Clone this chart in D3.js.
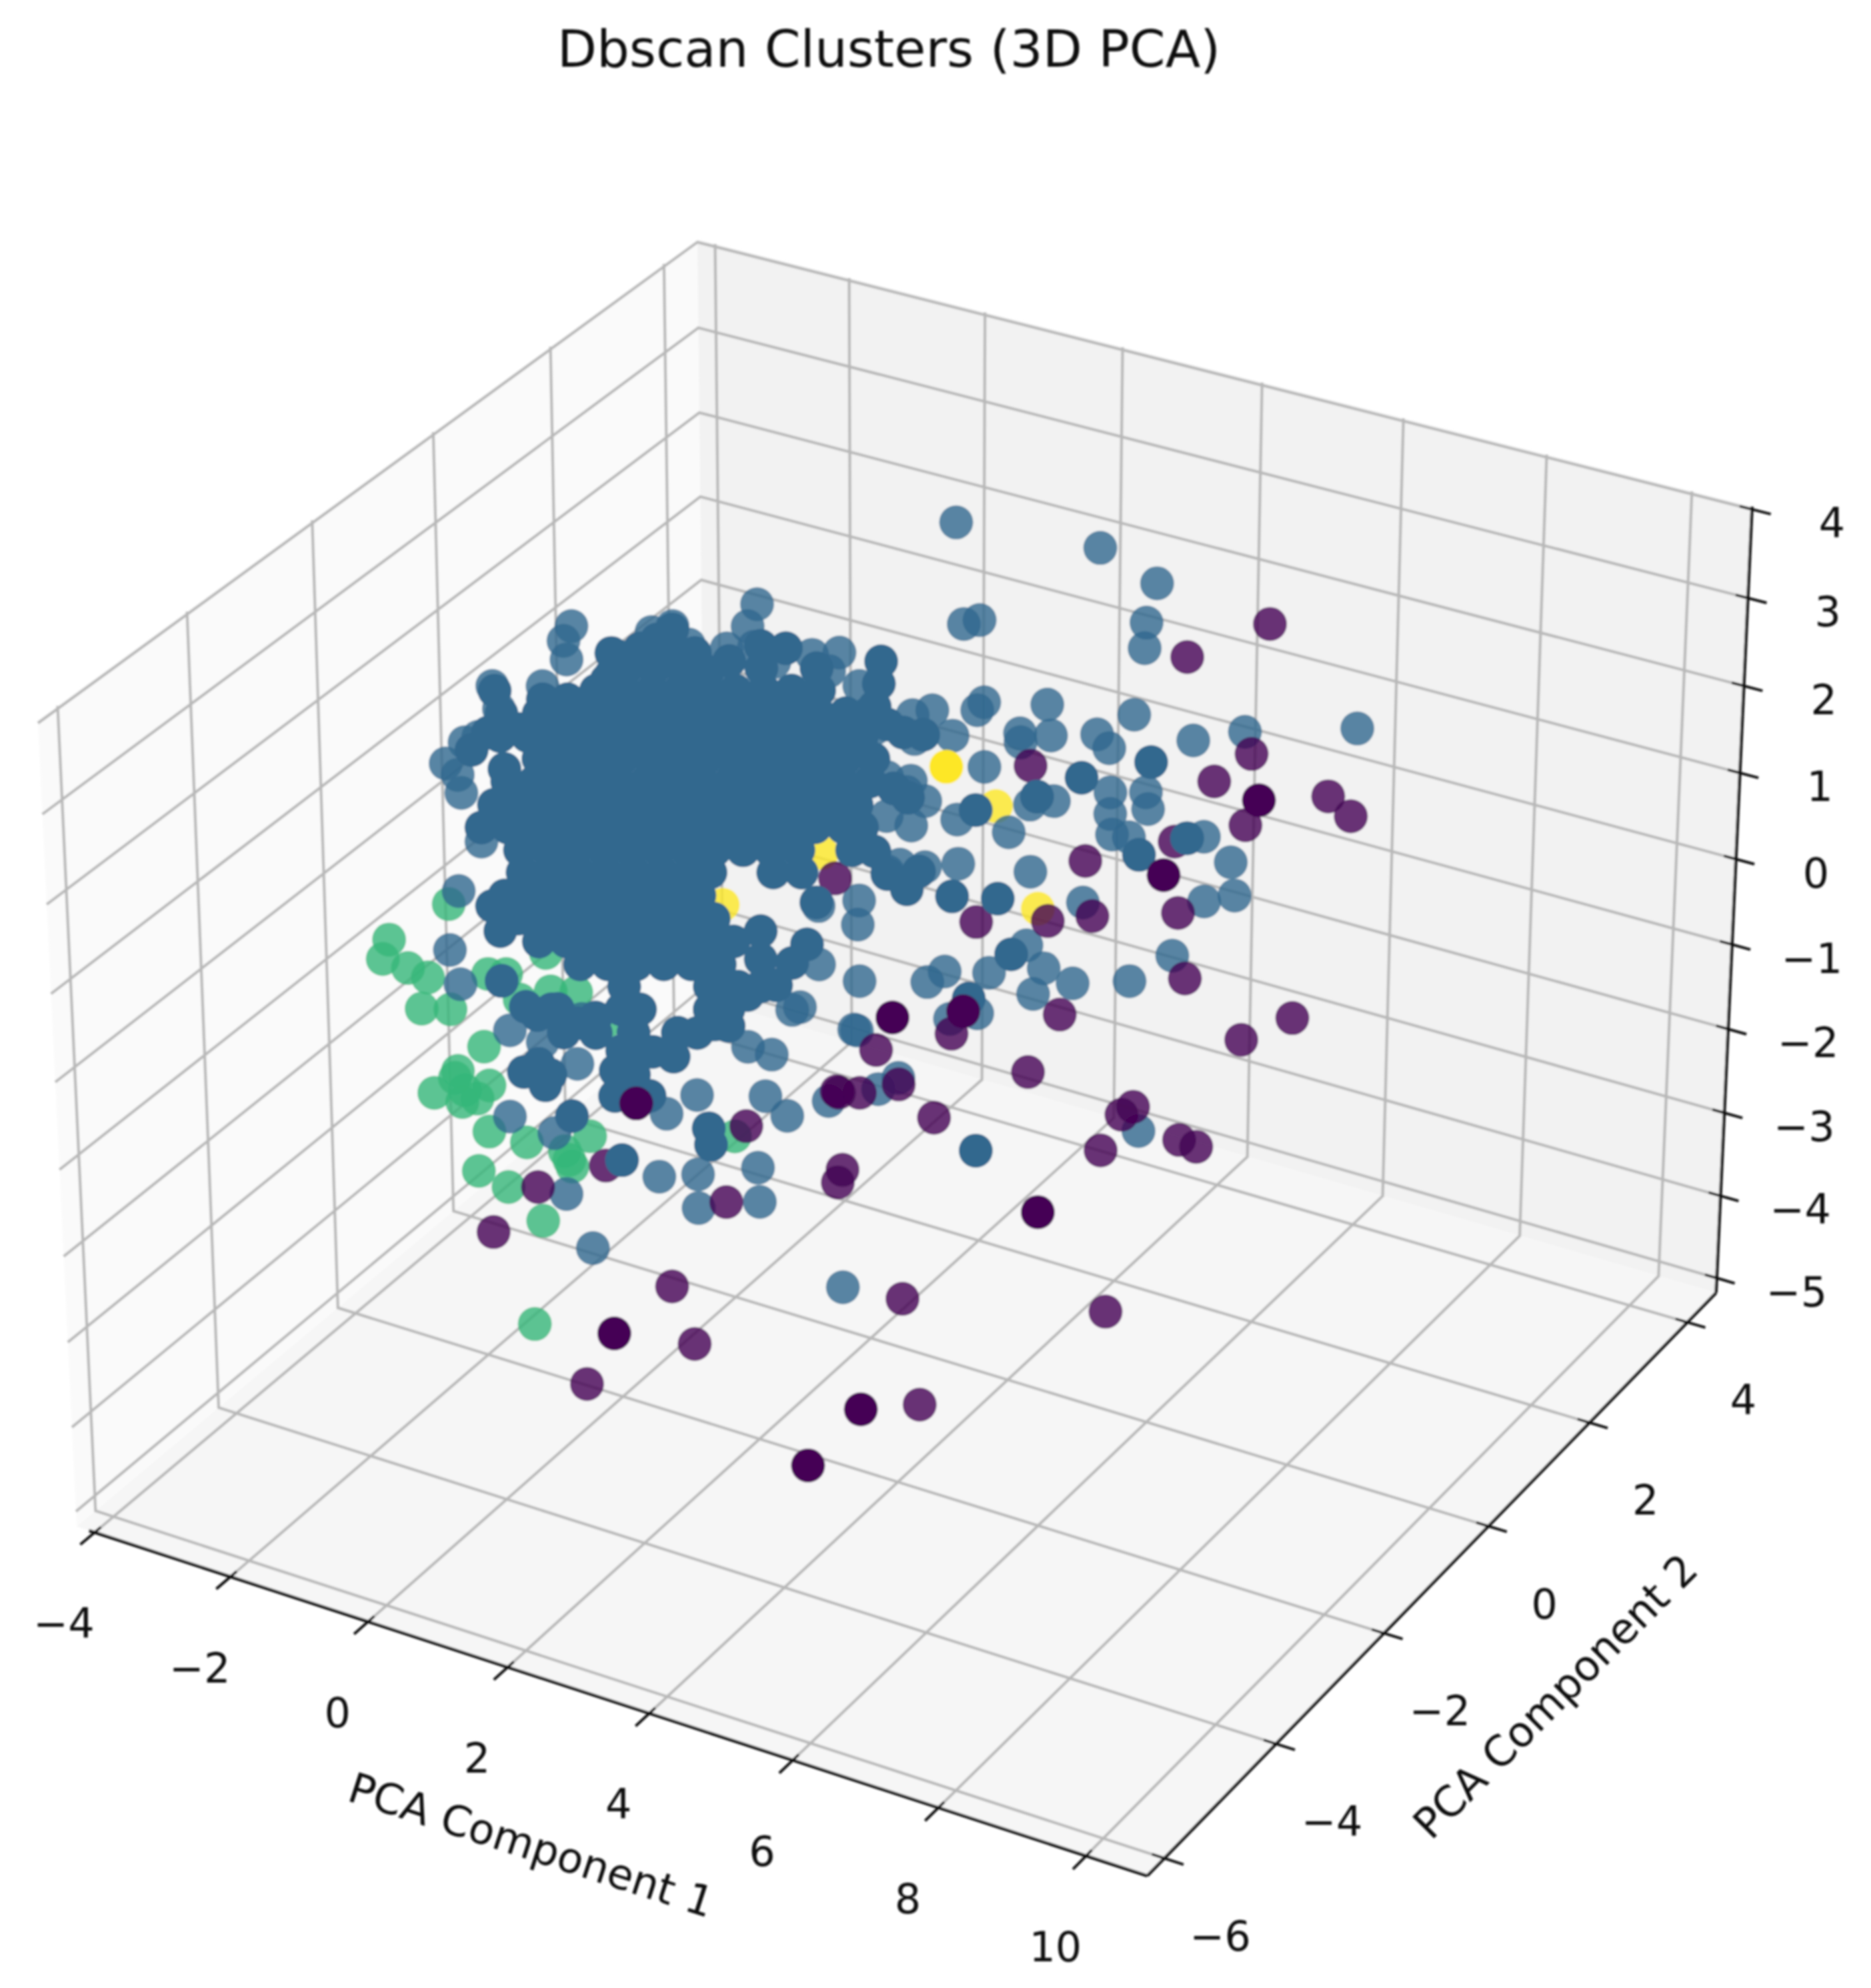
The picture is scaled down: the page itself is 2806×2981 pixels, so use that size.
<!DOCTYPE html>
<html>
<head>
<meta charset="utf-8">
<script src="https://cdn.jsdelivr.net/npm/d3@7"></script>
<style>
  html, body { margin: 0; background: #fff; }
  text { font-family: "DejaVu Sans", sans-serif; fill: #111; }
</style>
</head>
<body>
<svg class="chart"></svg>
<script>
const width = 2806;
const height = 2981;

// [pca1, pca2, pca3], one list per dbscan label
const noisePoints = [
[5.99,2.26,2.85],[5.22,1.77,2.56],[3.91,.65,1.62],[6.19,1.68,1.72],[5.88,1.41,1.48],[7.12,1.86,1.35],[7.42,1.88,1.18],
[6.34,1.38,1.10],[5.65,1.00,.96],[4.77,.53,.79],[5.90,.74,.34],[5.01,.35,.31],[4.56,.13,.27],[3.81,-.19,.26],[2.20,-.65,.64],
[6.17,.52,-.23],[4.97,-.18,-.54],[3.89,-.73,-.71],[3.15,-1.13,-.85],[7.42,.84,-.57],[6.95,.53,-.76],[4.81,-.54,-1.04],
[2.89,-1.46,-1.22],[2.86,-1.46,-1.21],[3.11,-1.37,-1.22],[3.49,-1.16,-1.15],[3.96,-1.13,-1.44],[6.02,-.21,-1.34],[5.92,-.29,-1.41],
[6.60,-.13,-1.63],[6.80,-.08,-1.69],[5.81,-.52,-1.72],[3.16,-1.74,-1.89],[3.15,-1.81,-2.00],[4.18,-1.97,-3.01],[6.35,-1.12,-3.12],
[.02,-3.16,-2.04],[.67,-2.78,-1.85],[2.04,-2.38,-2.17],[1.73,-2.95,-2.90],[2.14,-3.07,-3.40],[1.13,-3.70,-3.75],[4.68,-2.30,-3.93],
[-.31,-3.53,-2.43],[2.02,-2.00,-1.51],
// nearer the camera
[7.94,-.60,2.81],[4.85,-2.99,.98],[5.55,-2.66,1.03],[7.19,-1.29,2.18],[6.90,-3.09,-.66],[2.95,-5.37,-1.68],[5.68,-4.59,-2.32],[5.31,-5.03,-2.79],[2.50,-4.42,.26]
];

const cluster0Points = [
// outlying points
[2.39,1.26,3.73],[3.98,1.80,3.51],[4.68,1.92,3.20],[4.69,1.72,2.86],[4.75,1.61,2.64],[2.78,.90,2.85],[2.93,.99,2.88],[3.90,.96,2.15],
[3.23,.69,2.17],[3.18,.63,2.10],[4.84,1.31,2.06],[5.54,1.47,1.84],[6.05,1.74,1.91],[7.22,2.25,1.94],[2.71,.43,2.10],[2.52,.32,2.06],
[3.70,.73,1.90],[4.03,.86,1.88],[4.51,1.07,1.89],[4.68,1.07,1.77],[3.43,.44,1.61],[3.73,.70,1.82],[4.83,.90,1.39],[4.89,.82,1.20],
[5.20,1.06,1.39],[5.27,1.01,1.24],[4.26,.62,1.31],[4.02,.50,1.28],[3.30,.12,1.15],[3.88,.30,1.04],[2.91,.05,1.31],[3.00,.42,1.88],
[2.84,-.11,1.10],[4.97,.75,1.02],[5.16,.81,1.00],[5.94,1.15,1.00],[6.30,1.17,.78],[6.14,.90,.44],[6.44,1.06,.49],[4.23,.24,.70],
[4.87,.36,.43],[3.11,-.21,.74],[3.45,-.05,.77],[2.44,-.03,1.52],[2.69,0,1.39],[2.73,-.39,.70],[2.58,-.73,.24],
[2.11,-.83,.40],[2.29,-1.05,-.11],[2.77,-.94,-.25],[2.22,-1.30,-.48],[2.86,-1.15,-.67],[3.63,-.52,-.17],[3.48,-.64,-.26],[4.10,-.33,-.18],
[4.41,-.06,.06],[4.66,-.07,-.14],[5.01,0,-.27],[4.63,-.22,-.36],[5.60,.26,-.25],[5.97,.55,-.03],[4.10,-.54,-.53],[3.83,-.68,-.58],
[2.81,-1.54,-1.29],[3.29,-1.27,-1.19],[3.47,-1.14,-1.09],[6.15,-.28,-1.55],[3.52,-2.19,-2.91],[1.26,-2.58,-1.95],[1.66,-2.40,-1.93],
[2.27,-2.11,-1.87],[1.77,-2.53,-2.22],[2.39,-2.23,-2.17],[.34,-3.06,-2.10],[.78,-3.15,-2.57],[-1.71,-2.37,.53],[-1.62,-2.64,.02],
[-1.41,-2.72,-.28],[-.75,-2.68,-.68],[-.49,-3.01,-1.43],[.03,-2.88,-1.57],[-.37,-2.58,-.78],[.06,-2.51,-.97],[-.03,-2.32,-.58],
[1.15,-2.31,-1.40],[1.41,-2.10,-1.24],[1.80,-1.69,-.82],[2.07,-1.61,-.89],[2.13,-1.80,-1.25],[2.42,-1.78,-1.42],[2.15,-1.35,-.50],[2.89,-1.14,-.68],
[2.16,.10,1.94],
// edge of the main cloud
[-1.33,-.85,2.83],[-1.37,-.94,2.70],[-1.28,-1.00,2.54],[-1.45,-1.21,2.31],[-1.98,-1.43,2.31],[-1.84,-1.49,2.11],[-1.97,-1.69,1.87],[-2.10,-1.77,1.82],
[-2.23,-1.94,1.64],[-2.07,-1.93,1.54],[-1.98,-1.98,1.38],[-1.62,-2.08,.96],[-.27,-.40,2.83],[-.47,-.52,2.78],[-.75,-.76,2.57],[-.04,-.40,2.67],
[.55,.06,3.02],[.52,-.07,2.83],[.37,-.25,2.64],[.65,-.12,2.65],[1.28,.11,2.58],[1.56,.24,2.60],[1.51,.12,2.44],[.91,-.09,2.52],[.35,-.41,2.36],
[1.87,.20,2.31],[2.61,.24,1.85],[2.70,.06,1.49],[2.55,-.18,1.18],[2.84,-.31,.76],[2.52,-.63,.45],
// nearer the camera, outlying
[3.69,-1.71,3.98],[6.73,-.92,3.13],[6.07,-1.28,3.00],[5.67,-1.54,2.84],[5.09,-1.86,2.73],[6.88,-1.32,2.35],[7.32,-1.05,2.49],[5.57,-2.09,1.98],
[5.10,-2.28,2.00],[3.77,-3.09,1.60],[5.87,-2.24,1.51],[5.57,-2.59,1.14],[6.09,-3.13,-.14],[3.38,-4.25,-.09],[3.31,-4.20,.05],[.77,-4.54,1.29],
[1.26,-4.78,.52],[1.54,-4.68,.50],[1.88,-4.74,.15],[2.26,-4.48,.32],[2.61,-4.33,.32],[2.74,-4.08,.65],[3.06,-3.78,.92],[3.57,-3.37,1.25],
[1.23,-4.51,1.00],[1.55,-4.46,.85],[1.88,-4.33,.85],[3.74,-2.89,1.95],[2.52,-4.69,-.22],[2.39,-4.32,.50],[2.71,-3.97,.85],
[-.16,-3.48,3.73],[-.02,-3.54,3.54],[-.10,-3.67,3.38],[-.22,-3.80,3.23],[.61,-3.20,3.66],[.36,-3.31,3.66],[.21,-3.52,3.41],[.95,-2.96,3.82],
[1.47,-2.49,4.25],[1.34,-2.59,4.16],[1.77,-2.48,4.05],[1.95,-2.49,3.89],[2.14,-2.36,3.98],[2.42,-2.17,4.11],[2.68,-2.07,4.09],
[3.73,-1.80,3.79],[3.76,-1.91,3.60],[3.94,-1.92,3.45],[4.12,-1.88,3.38],[4.33,-1.80,3.36],[4.19,-2.13,2.91],[4.36,-2.10,2.83],
[4.38,-2.48,2.19],[4.69,-2.33,2.21],[4.62,-2.45,2.06],[4.18,-2.45,2.38],
[.45,-4.30,1.92],[.61,-4.36,1.71],[2.26,-4.16,.85],[2.51,-4.15,.69],[2.91,-3.89,.85],[3.21,-3.73,.91],[3.31,-3.53,1.17],[2.20,-4.28,.70],
[1.09,-4.53,1.07],[1.36,-4.43,1.05],[1.66,-4.37,.93],[1.83,-4.27,.98],[3.26,-3.24,1.71],[3.67,-3.22,1.44],[3.34,-3.34,1.47],
[.92,-2.84,4.05],[.98,-2.92,3.87],[1.19,-2.96,3.65],[1.74,-2.73,3.65],[2.31,-2.49,3.65],[2.88,-2.25,3.65],[1.01,-3.84,2.29],[.17,-3.73,3.07],
[1.39,-4.69,.59],[1.52,-4.74,.41],[2.40,-4.38,.39],[2.19,-4.38,.53],
// the dense middle of the cloud
[1.20,-2.70,4.09],[1.48,-2.58,4.09],
[1.12,-2.83,3.92],[1.40,-2.71,3.92],[1.69,-2.59,3.92],[2.49,-2.25,3.92],[3.05,-2.01,3.92],
[.87,-3.04,3.73],[1.16,-2.92,3.73],[1.44,-2.80,3.73],[1.72,-2.68,3.73],[2.01,-2.56,3.73],[2.29,-2.44,3.73],[2.58,-2.32,3.73],[2.86,-2.20,3.73],[3.14,-2.08,3.73],
[.36,-3.38,3.54],[.64,-3.26,3.54],[.93,-3.13,3.54],[1.21,-3.01,3.54],[1.49,-2.89,3.54],[1.78,-2.77,3.54],[2.06,-2.65,3.54],[2.35,-2.53,3.54],[2.63,-2.41,3.54],[2.91,-2.29,3.54],[3.20,-2.17,3.54],[3.48,-2.05,3.54],[3.71,-1.96,3.54],
[.03,-3.63,3.35],[.31,-3.51,3.35],[.59,-3.39,3.35],[.88,-3.27,3.35],[1.16,-3.15,3.35],[1.44,-3.03,3.35],[1.73,-2.91,3.35],[2.01,-2.79,3.35],[2.30,-2.67,3.35],[2.58,-2.55,3.35],[2.86,-2.43,3.35],[3.15,-2.31,3.35],[3.43,-2.19,3.35],[3.71,-2.07,3.35],
[.49,-3.55,3.16],[.78,-3.43,3.16],[1.06,-3.31,3.16],[1.34,-3.19,3.16],[1.63,-3.07,3.16],[1.91,-2.95,3.16],[2.19,-2.83,3.16],[2.48,-2.71,3.16],[2.76,-2.59,3.16],[3.05,-2.47,3.16],[3.33,-2.35,3.16],[3.61,-2.23,3.16],[3.90,-2.11,3.16],
[.24,-3.77,2.97],[.52,-3.65,2.97],[.80,-3.53,2.97],[1.09,-3.41,2.97],[1.37,-3.29,2.97],[1.66,-3.17,2.97],[1.94,-3.05,2.97],[2.22,-2.93,2.97],[2.51,-2.81,2.97],[2.79,-2.69,2.97],[3.07,-2.57,2.97],[3.36,-2.45,2.97],[3.64,-2.33,2.97],[3.93,-2.21,2.97],
[.17,-3.91,2.77],[.46,-3.79,2.77],[.74,-3.67,2.77],[1.02,-3.55,2.77],[1.31,-3.43,2.77],[1.59,-3.31,2.77],[1.88,-3.19,2.77],[2.16,-3.07,2.77],[2.44,-2.95,2.77],[2.73,-2.83,2.77],[3.01,-2.71,2.77],[3.30,-2.59,2.77],[3.58,-2.47,2.77],[3.86,-2.35,2.77],
[.11,-4.05,2.58],[.38,-3.94,2.58],[.67,-3.81,2.58],[.95,-3.69,2.58],[1.23,-3.57,2.58],[1.52,-3.45,2.58],[1.80,-3.33,2.58],[2.09,-3.21,2.58],[2.37,-3.09,2.58],[2.65,-2.97,2.58],[2.94,-2.85,2.58],[3.22,-2.73,2.58],[3.50,-2.61,2.58],[3.79,-2.49,2.58],[3.98,-2.41,2.58],
[.57,-3.97,2.39],[.85,-3.85,2.39],[1.13,-3.73,2.39],[1.42,-3.61,2.39],[1.70,-3.49,2.39],[1.98,-3.37,2.39],[2.27,-3.25,2.39],[2.55,-3.13,2.39],[2.84,-3.01,2.39],[3.12,-2.89,2.39],[3.40,-2.77,2.39],[3.95,-2.54,2.39],
[.66,-4.04,2.20],[.94,-3.93,2.20],[1.23,-3.80,2.20],[1.51,-3.68,2.20],[1.79,-3.56,2.20],[2.08,-3.44,2.20],[2.36,-3.32,2.20],[2.57,-3.23,2.20],[3.21,-2.96,2.20],[3.50,-2.84,2.20],
[.55,-4.21,2.01],[.83,-4.09,2.01],[1.11,-3.97,2.01],[1.40,-3.85,2.01],[1.68,-3.73,2.01],[1.96,-3.61,2.01],[2.25,-3.49,2.01],[2.53,-3.37,2.01],
[.75,-4.23,1.81],[1.04,-4.11,1.81],[1.32,-3.99,1.81],[1.60,-3.87,1.81],[1.89,-3.75,1.81],[2.17,-3.63,1.81],[2.46,-3.51,1.81],[2.74,-3.39,1.81],
[1.03,-4.23,1.62],[1.31,-4.11,1.62],[1.59,-3.99,1.62],[1.88,-3.87,1.62],[2.16,-3.75,1.62],[2.45,-3.63,1.62],[2.73,-3.51,1.62],[3.01,-3.39,1.62],
[1.52,-4.14,1.43],[1.80,-4.02,1.43],[2.09,-3.90,1.43],[2.37,-3.78,1.43],[2.65,-3.66,1.43],[2.94,-3.54,1.43],
[2.03,-4.03,1.24],[2.90,-3.66,1.24],[3.19,-3.54,1.24],[3.42,-3.44,1.24],
[1.42,-4.40,1.05],[2.07,-4.13,1.05],[2.26,-4.05,1.05],[2.97,-3.75,1.05],[3.16,-3.67,1.05]
];

const cluster1Points = [
[-1.77,-2.47,.42],[-2.29,-2.87,.11],[-2.30,-2.97,-.06],[-2.01,-2.89,-.14],[-1.77,-2.84,-.22],[-1.74,-2.99,-.49],[-1.44,-2.86,-.50],[-1.15,-2.56,-.19],
[-.96,-2.48,-.19],[-.74,-2.52,-.41],[-.61,-2.22,-.01],[-.44,-2.35,-.34],[-.17,-2.24,-.35],[-.97,-2.86,-.82],[-1.18,-3.11,-1.09],[-1.17,-3.07,-1.03],
[-1.35,-3.26,-1.22],[-1.03,-3.17,-1.30],[-1.04,-3.11,-1.20],[-.80,-2.98,-1.16],[-.88,-3.09,-1.27],[-.66,-3.16,-1.56],[-.23,-3.04,-1.65],[.41,-2.73,-1.60],
[.27,-2.92,-1.80],[.19,-2.90,-1.73],[.32,-2.93,-1.86],[-.65,-3.36,-1.90],[-.29,-3.29,-2.04],[.18,-3.27,-2.33],[.40,-3.70,-3.23],[1.93,-2.09,-1.60],
[.69,-2.33,-1.12],[.23,-2.22,-.60]
];

const cluster2Points = [
[3.67,.34,1.27],[4.42,.13,.38],[1.98,-.61,.86],[1.10,-1.25,.41],[.51,-.64,1.87],
// in front of the cloud
[4.66,-1.82,3.09]
];

const labels = [-1, 0, 1, 2];
const labelColors = ["#440154", "#31688e", "#35b779", "#fde725"];

const xTicks = [-4, -2, 0, 2, 4, 6, 8, 10];
const yTicks = [-6, -4, -2, 0, 2, 4];
const zTicks = [-5, -4, -3, -2, -1, 0, 1, 2, 3, 4];

const xLimits = [-4, 10.85];
const yLimits = [-6.3, 4.6];
const zLimits = [-5.18, 4.03];
// where the x ticks really sit along the floor edge
const xTickLimits = [-4.267, 10.82];

const titleText = "Dbscan Clusters (3D PCA)";
const xLabelText = "PCA Component 1";
const yLabelText = "PCA Component 2";

const svg = d3.select(".chart").attr("width", width).attr("height", height).attr("viewBox", [0, 0, width, height]);

// the source is a blown up low res png, so everything is slightly soft
const defs = svg.append("defs");
defs.append("filter").attr("id", "soft").append("feGaussianBlur").attr("stdDeviation", 1.8);
const plot = svg.append("g").attr("filter", "url(#soft)");

// data -> 0..1 inside the box
const xNorm = d3.scaleLinear().domain(xLimits).range([0, 1]);
const yNorm = d3.scaleLinear().domain(yLimits).range([0, 1]);
const zNorm = d3.scaleLinear().domain(zLimits).range([0, 1]);
const xTickNorm = d3.scaleLinear().domain(xTickLimits).range([0, 1]);

// camera, same one matplotlib uses: elev 30, azim -60, dist 10
const boxSide = 1.1905, boxTall = 0.8929;
const screenX = d3.scaleLinear().domain([0, 1]).range([1367, 1367 + 15450]);
const screenY = d3.scaleLinear().domain([0, 1]).range([1527, 1527 - 15430]);

function projectNorm(px, py, pz) {
    const a = boxSide * (px - 0.5), b = boxSide * (py - 0.5), c = boxTall * (pz - 0.5);
    const u = 0.866 * a + 0.5 * b;
    const v = -0.25 * a + 0.433 * b + 0.866 * c;
    const w = 0.433 * a - 0.75 * b + 0.5 * c;
    return [screenX(u / (10 - w)), screenY(v / (10 - w)), w];
}
const project = (x, y, z) => projectNorm(xNorm(x), yNorm(y), zNorm(z));

const line = d3.line();
const xy = p => [p[0], p[1]];

// walls and floor
const panes = [
    {fill: "#fafafa", corners: [[0, 0, 0], [0, 1, 0], [0, 1, 1], [0, 0, 1]]},
    {fill: "#f2f2f2", corners: [[0, 1, 0], [1, 1, 0], [1, 1, 1], [0, 1, 1]]},
    {fill: "#f6f6f6", corners: [[0, 0, 0], [1, 0, 0], [1, 1, 0], [0, 1, 0]]}
];
plot.append("g").selectAll("path").data(panes).enter().append("path")
    .attr("d", d => line(d.corners.map(c => xy(projectNorm(...c)))) + "Z")
    .attr("fill", d => d.fill);

// grid, every line bends at the back edge of the box
const gridLines = [
    ...xTicks.map(t => { const p = xTickNorm(t); return [[p, 0, 0], [p, 1, 0], [p, 1, 1]]; }),
    ...yTicks.map(t => { const p = yNorm(t); return [[1, p, 0], [0, p, 0], [0, p, 1]]; }),
    ...zTicks.map(t => { const p = zNorm(t); return [[0, 0, p], [0, 1, p], [1, 1, p]]; })
];
plot.append("g").selectAll("path").data(gridLines).enter().append("path")
    .attr("d", d => line(d.map(c => xy(projectNorm(...c)))))
    .attr("fill", "none").attr("stroke", "#b8b8b8").attr("stroke-width", 4.2);

// axis lines
const axisLines = [
    [[0.012, 0, 0], [1, 0, 0]],
    [[1, 0, 0], [1, 1, 0]],
    [[1, 1, 0], [1, 1, 1]]
];
plot.append("g").selectAll("path").data(axisLines).enter().append("path")
    .attr("d", d => line(d.map(c => xy(projectNorm(...c)))))
    .attr("fill", "none").attr("stroke", "#111").attr("stroke-width", 4.6);

// ticks
const tickSegs = [
    ...xTicks.map(t => [[xTickNorm(t), 0.009, 0], [xTickNorm(t), -0.021, 0]]),
    ...yTicks.map(t => [[0.989, yNorm(t), 0], [1.017, yNorm(t), 0]]),
    ...zTicks.map(t => [[0.989, 1, zNorm(t)], [1.017, 1, zNorm(t)]])
];
plot.append("g").selectAll("path").data(tickSegs).enter().append("path")
    .attr("d", d => line(d.map(c => xy(projectNorm(...c)))))
    .attr("stroke", "#111").attr("stroke-width", 4);

// scatter
const clusterColor = d3.scaleOrdinal().domain(labels).range(labelColors);
const depthAlpha = d3.scaleLinear().domain([0, 0.3]).range([0.8, 1]).clamp(true);

const rows = [
    ...cluster1Points.map(p => ({label: 1, p})),
    ...cluster2Points.map(p => ({label: 2, p})),
    ...cluster0Points.map(p => ({label: 0, p})),
    ...noisePoints.map(p => ({label: -1, p}))
].map(d => {
    const s = project(d.p[0], d.p[1], d.p[2]);
    return {label: d.label, sx: s[0], sy: s[1], depth: s[2]};
});
// far ones first, sort is stable so the label order above stays inside a layer
rows.sort((a, b) => d3.ascending(+(a.depth > 0.15), +(b.depth > 0.15)));

plot.append("g").selectAll("circle").data(rows).enter().append("circle")
    .attr("cx", d => d.sx)
    .attr("cy", d => d.sy)
    .attr("r", 25.5)
    .attr("fill", d => clusterColor(d.label))
    .attr("fill-opacity", d => depthAlpha(d.depth));

const fmt = t => String(t).replace("-", "\u2212");
const tickFont = 62;

function tickLabels(ticks, pos, dx, dy) {
    plot.append("g").selectAll("text").data(ticks).enter().append("text")
        .attr("x", d => pos(d)[0] + dx)
        .attr("y", d => pos(d)[1] + dy)
        .attr("dy", "0.36em")
        .attr("text-anchor", "middle")
        .attr("font-size", tickFont)
        .text(fmt);
}
tickLabels(xTicks, t => projectNorm(xTickNorm(t), 0, 0), -46, 136);
tickLabels(yTicks, t => projectNorm(1, yNorm(t), 0), 84, 116);
tickLabels(zTicks, t => projectNorm(1, 1, zNorm(t)), 120, 20);

plot.append("text")
    .attr("transform", "translate(797,2766) rotate(18)")
    .attr("dy", "0.36em").attr("text-anchor", "middle")
    .attr("font-size", 63).text(xLabelText);
plot.append("text")
    .attr("transform", "translate(2332,2543) rotate(-45)")
    .attr("dy", "0.36em").attr("text-anchor", "middle")
    .attr("font-size", 63).text(yLabelText);
plot.append("text")
    .attr("x", 1333).attr("y", 72)
    .attr("dy", "0.36em").attr("text-anchor", "middle")
    .attr("font-size", 77).text(titleText);
</script>
</body>
</html>
